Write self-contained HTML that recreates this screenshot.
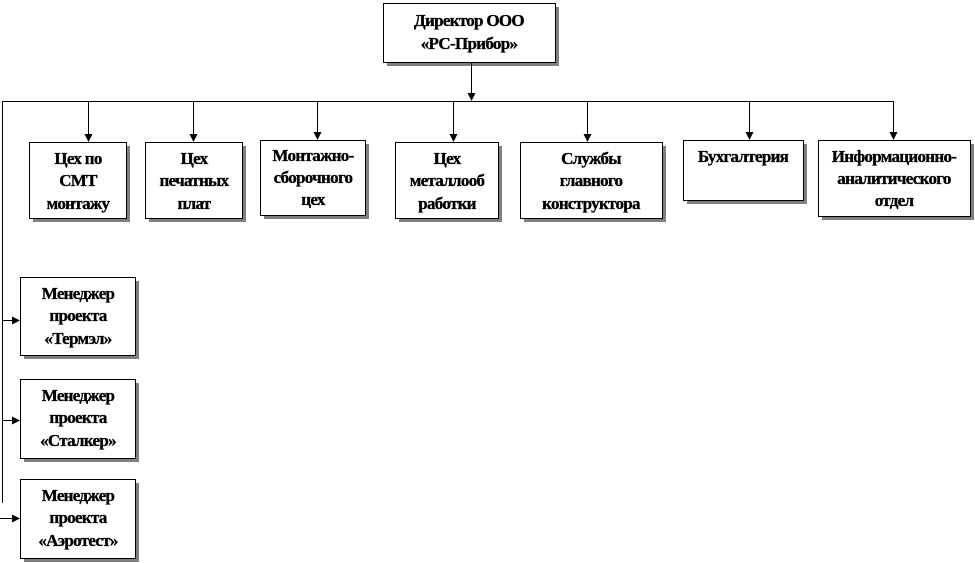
<!DOCTYPE html>
<html><head><meta charset="utf-8"><style>
html,body{margin:0;padding:0;background:#fff;}
svg{display:block;}
text{font-family:"Liberation Serif","Noto Serif CJK SC",serif;font-weight:bold;font-size:17px;fill:#000;stroke:#000;stroke-width:0.35px;text-anchor:middle;letter-spacing:-0.7px;}
</style></head><body>
<svg width="975" height="563" viewBox="0 0 975 563" xmlns="http://www.w3.org/2000/svg">
<defs><marker id="a" markerWidth="8" markerHeight="8" refX="7" refY="4" orient="auto" markerUnits="userSpaceOnUse"><path d="M0,0 L8,4 L0,8 z" fill="#000"/></marker></defs>
<g fill="#808080">
<rect x="387" y="7" width="172" height="59"/>
<rect x="33" y="146" width="97" height="76"/>
<rect x="149" y="146" width="97" height="76"/>
<rect x="264" y="144" width="105" height="75"/>
<rect x="399" y="146" width="103" height="76"/>
<rect x="524" y="146" width="142" height="76"/>
<rect x="687" y="144" width="120" height="60"/>
<rect x="822" y="144" width="152" height="76"/>
<rect x="24" y="281" width="115" height="78"/>
<rect x="24" y="383" width="115" height="79"/>
<rect x="24" y="483" width="115" height="79"/>
</g>
<g fill="#fff" stroke="#000" stroke-width="1">
<rect x="383.5" y="3.5" width="172" height="59"/>
<rect x="29.5" y="142.5" width="97" height="76"/>
<rect x="145.5" y="142.5" width="97" height="76"/>
<rect x="260.5" y="140.5" width="105" height="75"/>
<rect x="395.5" y="142.5" width="103" height="76"/>
<rect x="520.5" y="142.5" width="142" height="76"/>
<rect x="683.5" y="140.5" width="120" height="60"/>
<rect x="818.5" y="140.5" width="152" height="76"/>
<rect x="20.5" y="277.5" width="115" height="78"/>
<rect x="20.5" y="379.5" width="115" height="79"/>
<rect x="20.5" y="479.5" width="115" height="79"/>
</g>
<g stroke="#000" stroke-width="1" fill="none">
<line x1="471.5" y1="63" x2="471.5" y2="100" marker-end="url(#a)"/>
<polyline points="2.5,503 2.5,101.5 893.5,101.5"/>
<line x1="88.5" y1="102" x2="88.5" y2="141" marker-end="url(#a)"/>
<line x1="193.5" y1="102" x2="193.5" y2="141" marker-end="url(#a)"/>
<line x1="317.5" y1="102" x2="317.5" y2="139" marker-end="url(#a)"/>
<line x1="453.5" y1="102" x2="453.5" y2="141" marker-end="url(#a)"/>
<line x1="587.5" y1="102" x2="587.5" y2="141" marker-end="url(#a)"/>
<line x1="749.5" y1="102" x2="749.5" y2="139" marker-end="url(#a)"/>
<line x1="893.5" y1="101" x2="893.5" y2="139" marker-end="url(#a)"/>
<line x1="2" y1="320.5" x2="19" y2="320.5" marker-end="url(#a)"/>
<line x1="2" y1="420.5" x2="19" y2="420.5" marker-end="url(#a)"/>
<line x1="0" y1="518.5" x2="19" y2="518.5" marker-end="url(#a)"/>
</g>
<text x="469" y="26">Директор ООО</text>
<text x="469" y="49">«РС-Прибор»</text>
<text x="78" y="164">Цех по</text>
<text x="78" y="186">СМТ</text>
<text x="78" y="209">монтажу</text>
<text x="194" y="164">Цех</text>
<text x="194" y="186">печатных</text>
<text x="194" y="209">плат</text>
<text x="313" y="161">Монтажно-</text>
<text x="313" y="183">сборочного</text>
<text x="313" y="205">цех</text>
<text x="447" y="164">Цех</text>
<text x="447" y="186">металлооб</text>
<text x="447" y="209">работки</text>
<text x="591" y="164">Службы</text>
<text x="591" y="186">главного</text>
<text x="591" y="209">конструктора</text>
<text x="743" y="162">Бухгалтерия</text>
<text x="894" y="162">Информационно-</text>
<text x="894" y="184">аналитического</text>
<text x="894" y="206">отдел</text>
<text x="78" y="299">Менеджер</text>
<text x="78" y="321">проекта</text>
<text x="78" y="344">«Термэл»</text>
<text x="78" y="401">Менеджер</text>
<text x="78" y="423">проекта</text>
<text x="78" y="446">«Сталкер»</text>
<text x="78" y="501">Менеджер</text>
<text x="78" y="523">проекта</text>
<text x="78" y="546">«Аэротест»</text>
</svg>
</body></html>
